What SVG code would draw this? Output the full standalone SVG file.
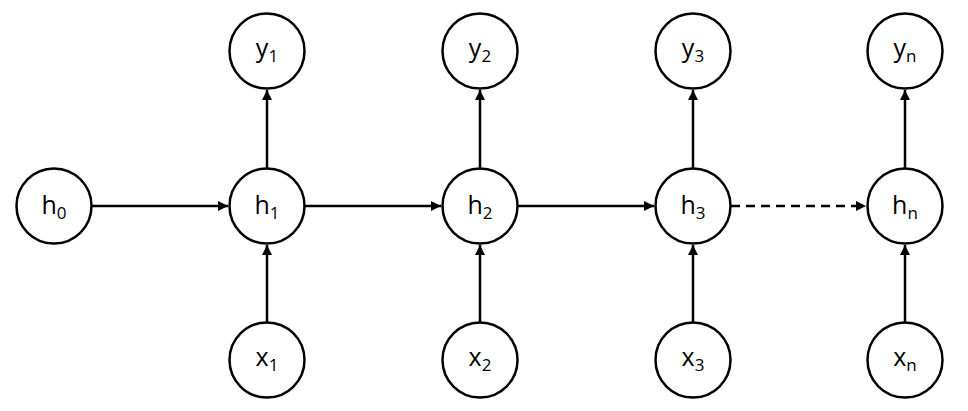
<svg xmlns="http://www.w3.org/2000/svg" width="968" height="411" viewBox="0 0 968 411">
<style>
circle{fill:#fff;stroke:#000;stroke-width:2.5}
text{font-family:"Open Sans","Liberation Sans",sans-serif;font-size:25px;text-anchor:middle;fill:#000}
.s{font-size:17px}
line{stroke:#000;stroke-width:2.5}
.d{stroke-dasharray:9,6}
</style>
<defs><marker id="a" viewBox="0 0 10 10" refX="10" refY="5" markerWidth="4" markerHeight="4" orient="auto"><path d="M0,0L10,5L0,10z" fill="#000"/></marker></defs>
<g id="connectors">
<line x1="92" y1="206" x2="228" y2="206" marker-end="url(#a)"/>
<line x1="305" y1="206" x2="441" y2="206" marker-end="url(#a)"/>
<line x1="518" y1="206" x2="654" y2="206" marker-end="url(#a)"/>
<line class="d" x1="731" y1="206" x2="866" y2="206" marker-end="url(#a)"/>
<line x1="267" y1="168" x2="267" y2="90" marker-end="url(#a)"/>
<line x1="480" y1="168" x2="480" y2="90" marker-end="url(#a)"/>
<line x1="693" y1="168" x2="693" y2="90" marker-end="url(#a)"/>
<line x1="905" y1="168" x2="905" y2="90" marker-end="url(#a)"/>
<line x1="267" y1="322" x2="267" y2="245" marker-end="url(#a)"/>
<line x1="480" y1="322" x2="480" y2="245" marker-end="url(#a)"/>
<line x1="693" y1="322" x2="693" y2="245" marker-end="url(#a)"/>
<line x1="905" y1="322" x2="905" y2="245" marker-end="url(#a)"/>
</g>
<g id="h0"><circle cx="54" cy="206" r="37.5"/><text x="54" y="214">h<tspan class="s" dy="5">0</tspan></text></g>
<g id="h1"><circle cx="267" cy="206" r="37.5"/><text x="267" y="214">h<tspan class="s" dy="5">1</tspan></text></g>
<g id="h2"><circle cx="480" cy="206" r="37.5"/><text x="480" y="214">h<tspan class="s" dy="5">2</tspan></text></g>
<g id="h3"><circle cx="693" cy="206" r="37.5"/><text x="693" y="214">h<tspan class="s" dy="5">3</tspan></text></g>
<g id="hn"><circle cx="905" cy="206" r="37.5"/><text x="905" y="214">h<tspan class="s" dy="5">n</tspan></text></g>
<g id="y1"><circle cx="267" cy="51" r="37.5"/><text x="267" y="57">y<tspan class="s" dy="5">1</tspan></text></g>
<g id="y2"><circle cx="480" cy="51" r="37.5"/><text x="480" y="57">y<tspan class="s" dy="5">2</tspan></text></g>
<g id="y3"><circle cx="693" cy="51" r="37.5"/><text x="693" y="57">y<tspan class="s" dy="5">3</tspan></text></g>
<g id="yn"><circle cx="905" cy="51" r="37.5"/><text x="905" y="57">y<tspan class="s" dy="5">n</tspan></text></g>
<g id="x1"><circle cx="267" cy="360" r="37.5"/><text x="267" y="366">x<tspan class="s" dy="5">1</tspan></text></g>
<g id="x2"><circle cx="480" cy="360" r="37.5"/><text x="480" y="366">x<tspan class="s" dy="5">2</tspan></text></g>
<g id="x3"><circle cx="693" cy="360" r="37.5"/><text x="693" y="366">x<tspan class="s" dy="5">3</tspan></text></g>
<g id="xn"><circle cx="905" cy="360" r="37.5"/><text x="905" y="366">x<tspan class="s" dy="5">n</tspan></text></g>
</svg>
